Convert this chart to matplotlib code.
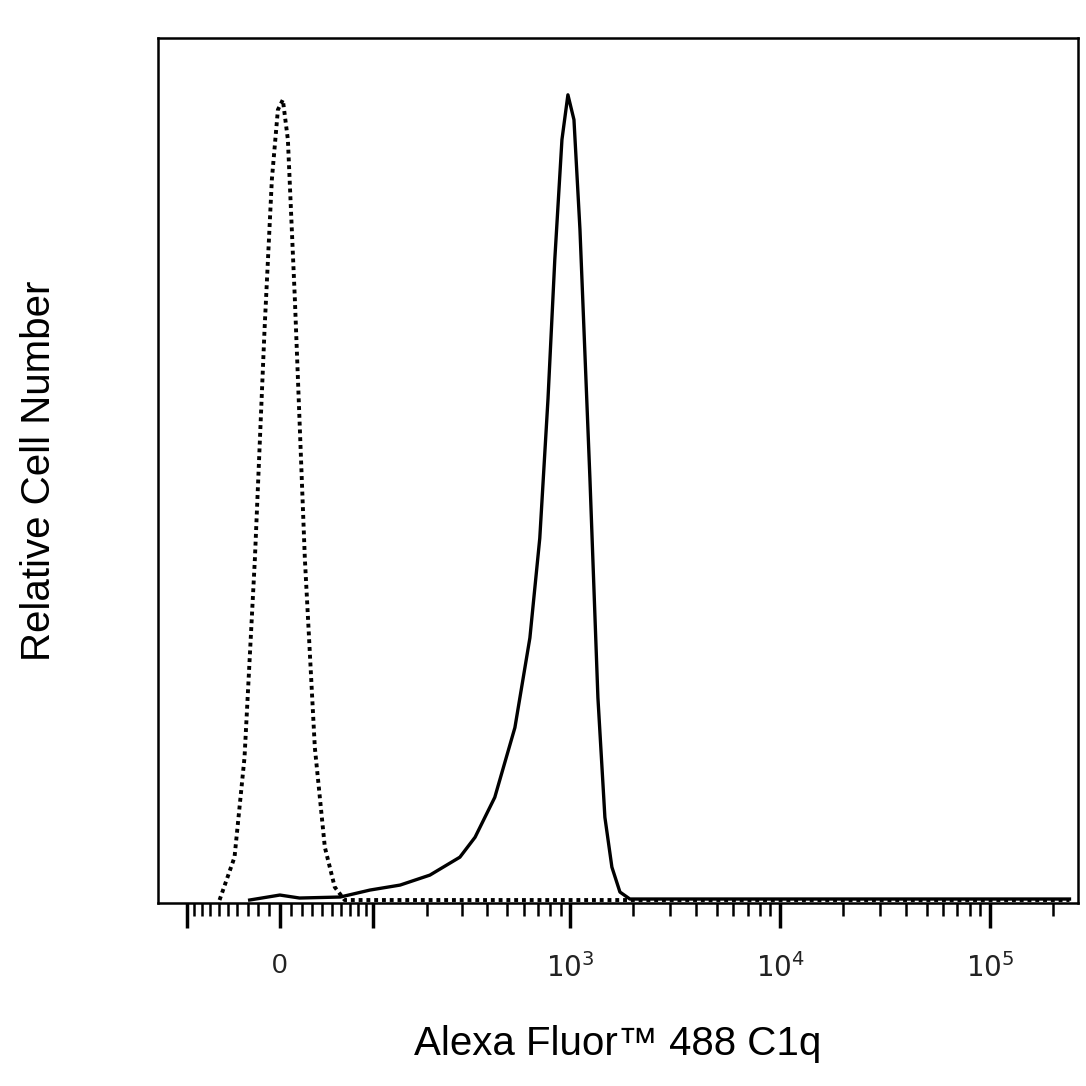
import matplotlib
matplotlib.use("Agg")
import matplotlib.pyplot as plt
import numpy as np

plt.rcParams['font.family'] = ['Liberation Sans', 'DejaVu Sans']

# biexponential-like axis: arcsinh(x / C)
C = 83.0

# stained sample (solid)
stained_x = [-28, 0, 18, 59, 96, 144, 207, 293, 348, 434, 543, 641, 715, 783,
             844, 913, 975, 1042, 1113, 1242, 1356, 1464, 1581, 1727, 1926, 239000]
stained_y = [0, 5, 2, 3, 10, 15, 25, 43, 63, 103, 173, 263, 363, 503,
             643, 763, 808, 783, 673, 423, 203, 83, 33, 8, 1, 1]

# isotype control (dotted)
control_x = [-59, -43, -33, -23, -14, -7.3, -1.8, 2.7, 7.3, 13.7, 23, 32.6, 42.6, 53, 64, 239000]
control_y = [0, 43, 143, 343, 573, 723, 793, 803, 763, 603, 343, 153, 53, 13, 0, 0]

major_ticks = [-100, 0, 100, 1000, 10000, 100000]
tick_labels = ['', '0', '', r'$10^3$', r'$10^4$', r'$10^5$']


def fwd(x):
    return np.arcsinh(np.asarray(x) / C)


def inv(y):
    return C * np.sinh(np.asarray(y))


fig = plt.figure(figsize=(10.86, 10.86), dpi=100)
ax = fig.add_axes([0.1455, 0.1685, 0.847, 0.7965])
ax.set_xscale('function', functions=(fwd, inv))

ax.plot(stained_x, stained_y, color='black', lw=2.4)
ax.plot(control_x, control_y, color='black', lw=2.8, linestyle=(0, (1, 1)))

ax.set_xlim(-147, 262000)
ax.set_ylim(-3, 865)

minor = list(range(-90, 0, 10)) + list(range(10, 100, 10)) + \
    [m * 10 ** e for e in (2, 3, 4, 5) for m in range(2, 10) if m * 10 ** e < 262000]
ax.set_xticks(major_ticks)
ax.set_xticklabels(tick_labels, fontsize=20, color='#222222')
ax.set_xticks(minor, minor=True)
ax.tick_params(axis='x', which='major', length=18, width=2.5, direction='out', pad=18)
ax.tick_params(axis='x', which='minor', length=9, width=1.8, direction='out')
ax.set_yticks([])
for s in ax.spines.values():
    s.set_linewidth(1.8)

ax.set_xlabel('Alexa Fluor™ 488 C1q', fontsize=29, labelpad=30)
ax.set_ylabel('Relative Cell Number', fontsize=29, labelpad=72)

fig.savefig('out.png', dpi=100)
